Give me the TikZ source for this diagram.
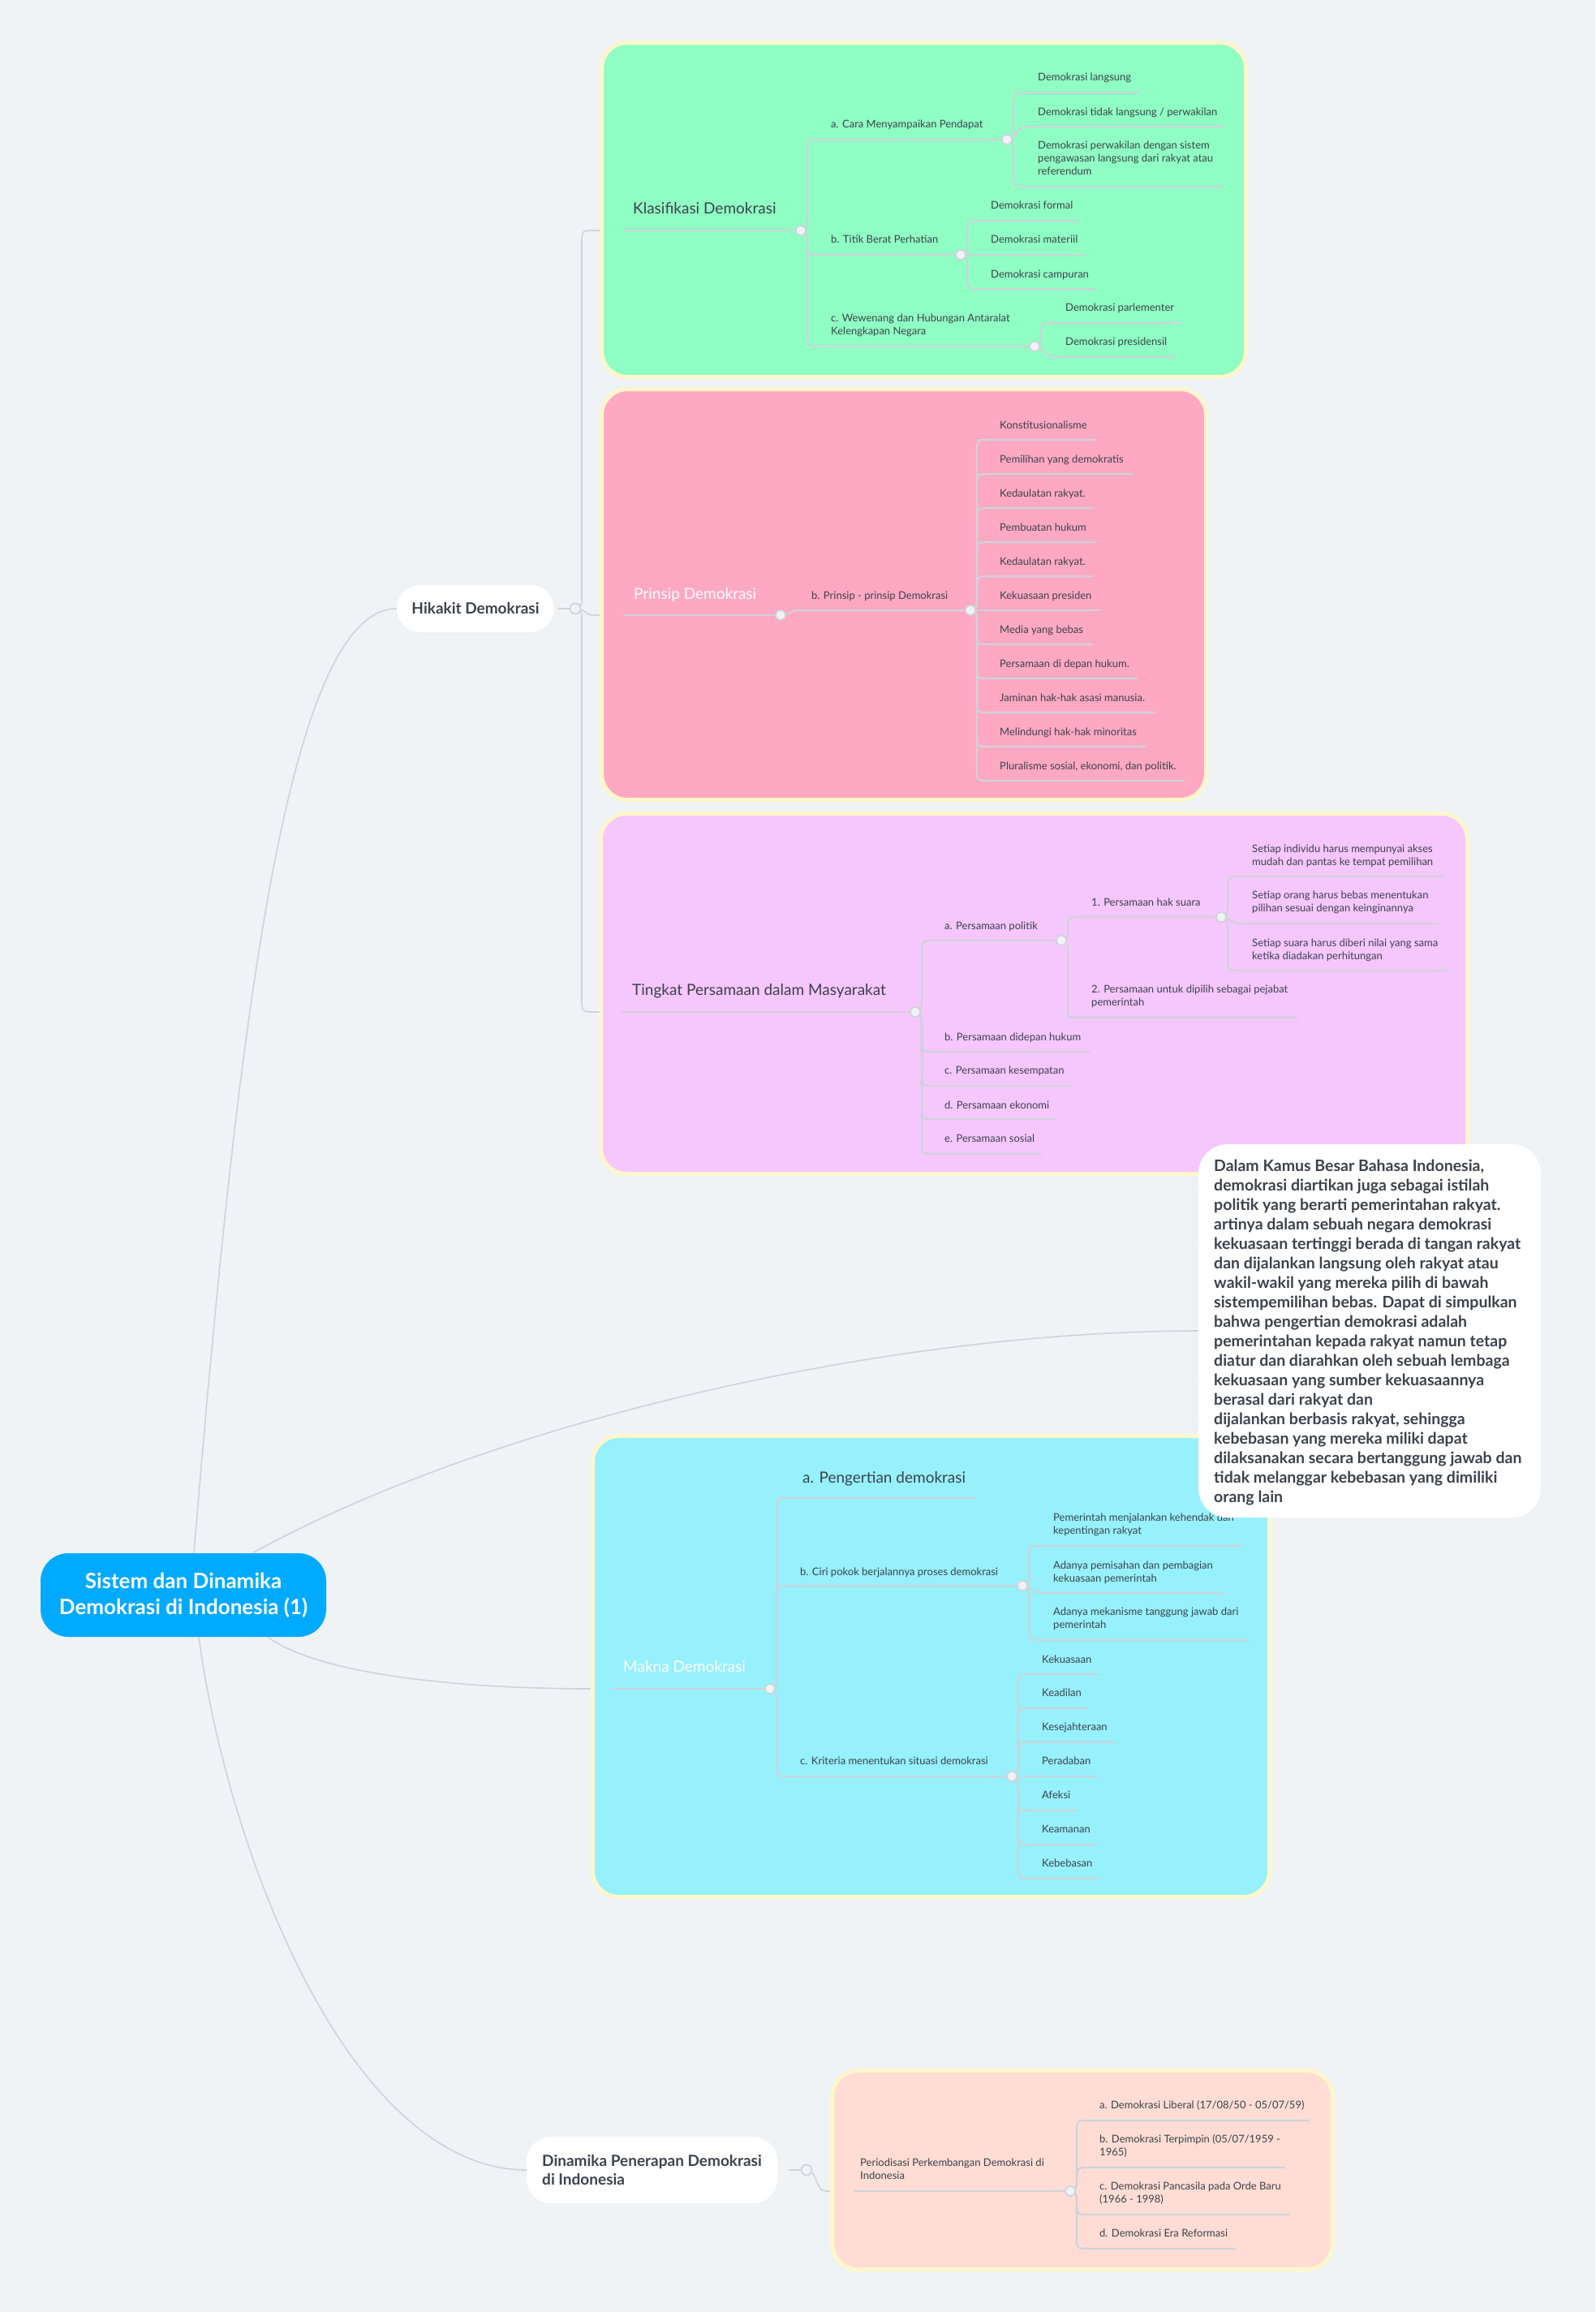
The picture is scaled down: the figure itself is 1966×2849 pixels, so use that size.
\documentclass[tikz,border=0pt]{standalone}
\usepackage{fontspec}
\setmainfont{Lato}
\definecolor{bgc}{HTML}{EFF3F6}
\definecolor{lnc}{HTML}{CED3D9}
\definecolor{jfc}{HTML}{F0F3F6}
\definecolor{txc}{HTML}{3B424A}
\definecolor{yel}{HTML}{FFF6CC}
\definecolor{grn}{HTML}{8FFFC3}
\definecolor{pnk}{HTML}{FFA8C4}
\definecolor{lil}{HTML}{F6C6FF}
\definecolor{cyn}{HTML}{96F1FD}
\definecolor{pch}{HTML}{FFDDD4}
\definecolor{blu}{HTML}{00AAFF}
\makeatletter
\newdimen\brXa \newdimen\brYa \newdimen\brXb \newdimen\brYb \newdimen\brDy
\newdimen\brXq \newdimen\brXt \newdimen\brXr \newdimen\brXp \newdimen\brXh
\newdimen\brYs \newdimen\brYt \newdimen\brYe
\newcommand\brn[2]{%
  \pgfpointanchor{#1}{center}\brXa=\pgf@x \brYa=\pgf@y
  \pgfpointanchor{#2}{center}\brXb=\pgf@x \brYb=\pgf@y
  \brDy=\brYb \advance\brDy by -\brYa
  \ifdim\brDy<0pt \def\brS{-}\brDy=-\brDy \else \def\brS{}\fi
  \brXq=\brXa \advance\brXq by 6pt
  \brXt=\brXa \advance\brXt by 8pt
  \brXp=\brXa \advance\brXp by 10pt
  \brXr=\brXa \advance\brXr by 14pt
  \brXh=\brXa \advance\brXh by 24pt
  \brYs=\brYa \advance\brYs by \brS 4pt
  \brYt=\brYa \advance\brYt by \brS 10pt
  \brYe=\brYb \advance\brYe by -\brS 16pt
  \ifdim\brDy<28pt
    \draw[lk] (#1) .. controls (\brXr,\brYa) and (\brXp,\brYb) .. (\brXh,\brYb) -- (#2);
  \else
    \draw[lk] (#1) .. controls (\brXq,\brYa) and (\brXt,\brYs) .. (\brXt,\brYt) -- (\brXt,\brYe) .. controls (\brXt,\brYb) .. (\brXh,\brYb) -- (#2);
  \fi}
\makeatother
% #1 junction, #2 name, #3 x, #4 baseline of LAST line, #5 text, #6 underline end x, #7 underline y
\newcommand\lf[7]{\node[sm] (#2) at (#3,#4) {#5}; \coordinate (#2u) at (#6,#7); \brn{#1}{#2u}}
\tikzset{
  lk/.style={draw=lnc, line width=2.2pt},
  lkm/.style={draw=lnc, line width=1.6pt},
  jn/.style={circle, draw=lnc, fill=jfc, line width=1.6pt, minimum size=12pt, inner sep=0pt},
  sm/.style={font=\fontsize{13}{16}\selectfont, text=txc, anchor=base west, align=left, inner sep=0pt},
  big/.style={font=\fontsize{19}{22}\selectfont, text=txc, anchor=base west, inner sep=0pt},
  box/.style={draw=yel, line width=5pt, rounded corners=32pt, inner sep=0pt},
  pill/.style={fill=white, rounded corners=29pt, inner sep=0pt, text=txc},
}
\begin{document}
\begin{tikzpicture}[x=1pt,y=-1pt]
\fill[bgc] (0,0) rectangle (1966,2849);
\useasboundingbox (0,0) rectangle (1966,2849);

% ---------- boxes ----------
\node[box, fill=grn, minimum width=794pt, minimum height=412pt] (gbox) at (1138.5,258.5) {};
\node[box, fill=pnk, minimum width=745pt, minimum height=506pt] (pbox) at (1114,732.5) {};
\node[box, fill=lil, minimum width=1068pt, minimum height=444pt] (lbox) at (1274.5,1224.5) {};
\node[box, fill=cyn, minimum width=834pt, minimum height=568pt] (cbox) at (1147.5,2053.5) {};
\node[box, fill=pch, minimum width=617pt, minimum height=245pt] (dbox) at (1334,2674) {};

% ---------- main nodes ----------
\node[fill=blu, rounded corners=34pt, minimum width=352pt, minimum height=103pt, inner sep=0pt,
  text=white, align=center, font=\fontsize{26}{32}\selectfont\bfseries] (root) at (226,1965.5)
  {Sistem dan Dinamika\\Demokrasi di Indonesia (1)};
\node[pill, minimum width=194pt, minimum height=58pt, font=\fontsize{19}{22}\selectfont\bfseries] (hik) at (586,750) {Hikakit Demokrasi};
\node[pill, minimum width=309pt, minimum height=82pt, rounded corners=30pt, align=left,
  font=\fontsize{19}{23}\selectfont\bfseries] (dyn) at (803.5,2674) {Dinamika Penerapan Demokrasi\\di Indonesia};

% ---------- Hikakit links ----------
\coordinate (cH) at (709,750);
\coordinate (gIn) at (739,284);
\coordinate (pIn) at (739,758);
\coordinate (lIn) at (739,1247);
\begin{scope}[lk/.style={draw=lnc, line width=1.6pt}]
\draw[lk, shorten <=5pt] (hik.east) -- (cH);
\brn{cH}{gIn}
\brn{cH}{pIn}
\brn{cH}{lIn}
\end{scope}
\node[jn, minimum size=13pt] (ccH) at (cH) {};

% ---------- Klasifikasi ----------
\node[big] (kT) at (780,263) {Klasifikasi Demokrasi};
\coordinate (kTu) at (768,284);
\coordinate (jK) at (987,284);
\draw[lk] (kTu) -- (jK);
\node[sm] (ka) at (1024,157) {a. Cara Menyampaikan Pendapat};
\coordinate (jKa) at (1241,172); \brn{jK}{jKa}
\lf{jKa}{ka1}{1279}{99}{Demokrasi langsung}{1405}{114}
\lf{jKa}{ka2}{1279}{142}{Demokrasi tidak langsung / perwakilan}{1509}{156}
\lf{jKa}{ka3}{1279}{215}{Demokrasi perwakilan dengan sistem\\pengawasan langsung dari rakyat atau\\referendum}{1508}{230}
\node[sm] (kb) at (1024,299) {b. Titik Berat Perhatian};
\coordinate (jKb) at (1184,314); \brn{jK}{jKb}
\lf{jKb}{kb1}{1221}{257}{Demokrasi formal}{1330}{272}
\lf{jKb}{kb2}{1221}{299}{Demokrasi materiil}{1337}{314}
\lf{jKb}{kb3}{1221}{342}{Demokrasi campuran}{1351}{356}
\node[sm] (kc) at (1024,412) {c. Wewenang dan Hubungan Antaralat\\Kelengkapan Negara};
\coordinate (jKc) at (1275,427); \brn{jK}{jKc}
\lf{jKc}{kc1}{1313}{383}{Demokrasi parlementer}{1455}{398}
\lf{jKc}{kc2}{1313}{425}{Demokrasi presidensil}{1448}{440}
\foreach \j in {jK,jKa,jKb,jKc} \node[jn] (c\j) at (\j) {};

% ---------- Prinsip ----------
\node[big, text=white] (pT) at (781,738) {Prinsip Demokrasi};
\coordinate (pTu) at (768,758);
\coordinate (jP) at (962,758);
\draw[lk] (pTu) -- (jP);
\node[sm] (pb) at (1000,738) {b. Prinsip - prinsip Demokrasi};
\coordinate (jPb) at (1196,752); \brn{jP}{jPb}
\lf{jPb}{p1}{1232}{528}{Konstitusionalisme}{1351}{542}
\lf{jPb}{p2}{1232}{570}{Pemilihan yang demokratis}{1396}{584}
\lf{jPb}{p3}{1232}{612}{Kedaulatan rakyat.}{1347}{626}
\lf{jPb}{p4}{1232}{654}{Pembuatan hukum}{1350}{668}
\lf{jPb}{p5}{1232}{696}{Kedaulatan rakyat.}{1347}{710}
\lf{jPb}{p6}{1232}{738}{Kekuasaan presiden}{1357}{752}
\lf{jPb}{p7}{1232}{780}{Media yang bebas}{1346}{794}
\lf{jPb}{p8}{1232}{822}{Persamaan di depan hukum.}{1402}{836}
\lf{jPb}{p9}{1232}{864}{Jaminan hak-hak asasi manusia.}{1424}{878}
\lf{jPb}{p10}{1232}{906}{Melindungi hak-hak minoritas}{1412}{920}
\lf{jPb}{p11}{1232}{948}{Pluralisme sosial, ekonomi, dan politik.}{1460}{962}
\foreach \j in {jP,jPb} \node[jn] (c\j) at (\j) {};

% ---------- Tingkat Persamaan ----------
\node[big] (tT) at (779,1226) {Tingkat Persamaan dalam Masyarakat};
\coordinate (tTu) at (766,1247);
\coordinate (jT) at (1128,1247);
\draw[lk] (tTu) -- (jT);
\node[sm] (ta) at (1164,1145) {a. Persamaan politik};
\coordinate (jTa) at (1308,1159); \brn{jT}{jTa}
\node[sm] (ta1) at (1345,1116) {1. Persamaan hak suara};
\coordinate (jTa1) at (1505,1130); \brn{jTa}{jTa1}
\lf{jTa1}{ta11}{1543}{1066}{Setiap individu harus mempunyai akses\\mudah dan pantas ke tempat pemilihan}{1780}{1080}
\lf{jTa1}{ta12}{1543}{1123}{Setiap orang harus bebas menentukan\\pilihan sesuai dengan keinginannya}{1773}{1138}
\lf{jTa1}{ta13}{1543}{1182}{Setiap suara harus diberi nilai yang sama\\ketika diadakan perhitungan}{1785}{1196}
\lf{jTa}{ta2}{1345}{1239}{2. Persamaan untuk dipilih sebagai pejabat\\pemerintah}{1599}{1254}
\lf{jT}{tb}{1164}{1282}{b. Persamaan didepan hukum}{1343}{1296}
\lf{jT}{tc}{1164}{1323}{c. Persamaan kesempatan}{1323}{1338}
\lf{jT}{td}{1164}{1366}{d. Persamaan ekonomi}{1303}{1379}
\lf{jT}{te}{1164}{1407}{e. Persamaan sosial}{1284}{1422}
\foreach \j in {jT,jTa,jTa1} \node[jn] (c\j) at (\j) {};

% ---------- Makna ----------
\node[big, text=white] (mT) at (768,2060) {Makna Demokrasi};
\coordinate (mTu) at (755,2081);
\coordinate (jM) at (949,2081);
\draw[lk] (mTu) -- (jM);
\node[big] (ma) at (989,1827) {a. Pengertian demokrasi};
\coordinate (mau) at (1203,1846); \brn{jM}{mau}
\node[sm] (mb) at (986,1941) {b. Ciri pokok berjalannya proses demokrasi};
\coordinate (jMb) at (1260,1954); \brn{jM}{jMb}
\lf{jMb}{mb1}{1298}{1890}{Pemerintah menjalankan kehendak dan\\kepentingan rakyat}{1531}{1905}
\lf{jMb}{mb2}{1298}{1949}{Adanya pemisahan dan pembagian\\kekuasaan pemerintah}{1508}{1963}
\lf{jMb}{mb3}{1298}{2006}{Adanya mekanisme tanggung jawab dari\\pemerintah}{1540}{2021}
\node[sm] (mc) at (986,2174) {c. Kriteria menentukan situasi demokrasi};
\coordinate (jMc) at (1247,2189); \brn{jM}{jMc}
\lf{jMc}{mc1}{1284}{2049}{Kekuasaan}{1354}{2063}
\lf{jMc}{mc2}{1284}{2090}{Keadilan}{1341}{2105}
\lf{jMc}{mc3}{1284}{2132}{Kesejahteraan}{1374}{2147}
\lf{jMc}{mc4}{1284}{2174}{Peradaban}{1354}{2189}
\lf{jMc}{mc5}{1284}{2216}{Afeksi}{1328}{2231}
\lf{jMc}{mc6}{1284}{2258}{Keamanan}{1352}{2273}
\lf{jMc}{mc7}{1284}{2300}{Kebebasan}{1355}{2315}
\foreach \j in {jM,jMb,jMc} \node[jn] (c\j) at (\j) {};

% ---------- note ----------
\node[fill=white, rounded corners=36pt, minimum width=422pt, minimum height=460pt, inner sep=0pt] (note) at (1688,1640) {};
\node[anchor=base west, inner sep=0pt, align=left, text=txc, font=\fontsize{19.5}{24}\selectfont\bfseries] (notetx) at (1496,1851)
{Dalam Kamus Besar Bahasa Indonesia,\\
demokrasi diartikan juga sebagai istilah\\
politik yang berarti pemerintahan rakyat.\\
artinya dalam sebuah negara demokrasi\\
kekuasaan tertinggi berada di tangan rakyat\\
dan dijalankan langsung oleh rakyat atau\\
wakil-wakil yang mereka pilih di bawah\\
sistempemilihan bebas. Dapat di simpulkan\\
bahwa pengertian demokrasi adalah\\
pemerintahan kepada rakyat namun tetap\\
diatur dan diarahkan oleh sebuah lembaga\\
kekuasaan yang sumber kekuasaannya\\
berasal dari rakyat dan\\
dijalankan berbasis rakyat, sehingga\\
kebebasan yang mereka miliki dapat\\
dilaksanakan secara bertanggung jawab dan\\
tidak melanggar kebebasan yang dimiliki\\
orang lain};

% ---------- Periodisasi ----------
\coordinate (cDn) at (994,2674);
\coordinate (dIn) at (1023,2700);
\begin{scope}[lk/.style={draw=lnc, line width=1.6pt}]
\draw[lk, shorten <=14pt] (dyn.east) -- (cDn);
\brn{cDn}{dIn}
\end{scope}
\node[jn, minimum size=13pt] (ccDn) at (cDn) {};
\node[sm] (dP) at (1060,2685) {Periodisasi Perkembangan Demokrasi di\\Indonesia};
\coordinate (dPu) at (1052,2700);
\coordinate (jD) at (1319,2700);
\draw[lk] (dPu) -- (jD);
\lf{jD}{d1}{1355}{2598}{a. Demokrasi Liberal (17/08/50 - 05/07/59)}{1614}{2613}
\lf{jD}{d2}{1355}{2656}{b. Demokrasi Terpimpin (05/07/1959 -\\1965)}{1584}{2671}
\lf{jD}{d3}{1355}{2714}{c. Demokrasi Pancasila pada Orde Baru\\(1966 - 1998)}{1589}{2729}
\lf{jD}{d4}{1355}{2756}{d. Demokrasi Era Reformasi}{1523}{2771}
\node[jn] (cjD) at (jD) {};

% ---------- root connectors ----------
\coordinate (cIn) at (728,2081);
\draw[lkm] ([xshift=13pt]root.north) .. controls (290,1300) and (350,750) .. (hik.west);
\draw[lkm] ([xshift=85pt]root.north) .. controls (611,1749) and (1100,1640) .. (note.west);
\draw[lkm] ([xshift=104pt]root.south) .. controls (390,2062) and (560,2081) .. (cIn);
\draw[lkm] ([xshift=19pt]root.south) .. controls (280,2280) and (430,2673) .. (dyn.west);
\end{tikzpicture}
\end{document}
